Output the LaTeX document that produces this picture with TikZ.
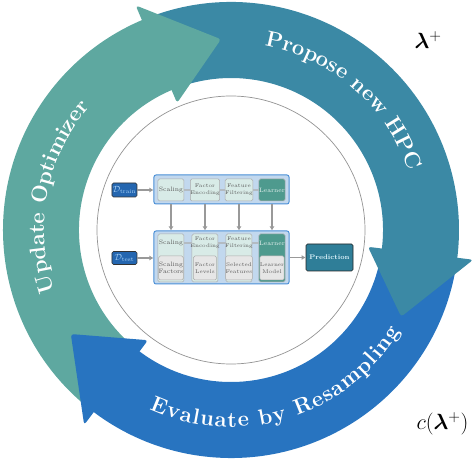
\RequirePackage{fix-cm}
\documentclass[tikz,border=0pt]{standalone}
\usepackage{amsmath,bm}
\usepackage{fontspec}
\usetikzlibrary{decorations.text,arrows.meta}
\definecolor{cgreen}{HTML}{5EA8A0}
\definecolor{cteal}{HTML}{3B89A5}
\definecolor{cblue}{HTML}{2874C0}
\definecolor{contfill}{HTML}{C2D8EE}
\definecolor{contdraw}{HTML}{4A8FD6}
\definecolor{stepfill}{HTML}{D8EBE7}
\definecolor{learnfill}{HTML}{4E9A8E}
\definecolor{subfill}{HTML}{E6E6E6}
\definecolor{dfill}{HTML}{2466B0}
\definecolor{dtext}{HTML}{A9D2F7}
\definecolor{predfill}{HTML}{2F7E98}
\definecolor{arrgrey}{HTML}{999999}
\definecolor{bargrey}{HTML}{B3BBC2}
\newcommand{\ringfont}{\fontsize{22}{26}\selectfont\bfseries}
\newcommand{\onefont}{\fontsize{6.3}{7}\selectfont}
\newcommand{\twofont}{\fontsize{5.3}{7}\selectfont}
\begin{document}
\begin{tikzpicture}[x=1pt,y=1pt,
  dbox/.style={rectangle, rounded corners=1.5pt, fill=dfill, draw=black!80, line width=0.6pt,
    minimum width=25pt, minimum height=14pt, inner sep=0pt, text=dtext, font=\fontsize{9}{10}\selectfont},
  cont/.style={rectangle, rounded corners=2pt, fill=contfill, draw=contdraw, line width=1pt, inner sep=0pt},
  stepbox/.style={rectangle, rounded corners=1.5pt, fill=stepfill, draw=gray!65, line width=0.5pt,
    minimum width=26pt, minimum height=22pt, inner sep=0pt, align=center,
    font=\twofont, text=black!65},
  learnbox/.style={stepbox, fill=learnfill, text=white!85!learnfill},
  tallbox/.style={stepbox, minimum height=48pt},
  steplabel/.style={inner sep=0pt, align=center, font=\twofont, text=black!65},
  subbox/.style={rectangle, rounded corners=1.5pt, fill=subfill, draw=gray!65, line width=0.5pt,
    minimum width=23pt, minimum height=24pt, inner sep=0pt, align=center,
    font=\twofont, text=black!65},
  predbox/.style={rectangle, rounded corners=1.5pt, fill=predfill, draw=black!85, line width=0.7pt,
    minimum width=47pt, minimum height=27pt, inner sep=0pt, text=white!88!cyan,
    font=\fontsize{6.8}{8}\selectfont\bfseries},
  arr/.style={draw=arrgrey, line width=1.1pt, -{Latex[length=4pt,width=5pt]}},
  bar/.style={draw=bargrey, line width=2pt}
]
\useasboundingbox (-231,-230) rectangle (243,230);

% ring bodies
\foreach \a/\c in {232/cgreen,112/cteal,-8/cblue}{
  \pgfmathsetmacro{\e}{\a-121}
  \fill[\c] (\a:228) arc[start angle=\a, end angle=\e, radius=228]
     -- (\e:152) arc[start angle=\e, end angle=\a, radius=152] -- cycle;
}
% arrow heads
\foreach \b/\c in {113/cgreen,-7/cteal,-127/cblue}{
  \pgfmathsetmacro{\t}{\b-20}
  \fill[\c, rounded corners=3pt] (\b:244) -- (\t:191) -- (\b:138) -- cycle;
}

% ring texts
{\ringfont
\path[decorate, decoration={text along path, text align=center, text color=white,
    text={Propose new HPC}}]
  (99:187) arc[start angle=99, end angle=-1, radius=187];
\path[decorate, decoration={text along path, text align=center, text color=white,
    text={Update Optimizer}}]
  (219:187) arc[start angle=219, end angle=119, radius=187];
\path[decorate, decoration={text along path, text align=fit to path, text color=white,
    text={Evaluate by Resampling}}]
  (-114.5:197) arc[start angle=-114.5, end angle=-31, radius=197];
}

% lambda labels
\node (lam) at (197,190) {\fontsize{22}{26}\selectfont$\bm{\lambda}^{+}$};
\node (clam) at (211.5,-194) {\fontsize{22}{26}\selectfont$c(\bm{\lambda}^{+})$};

% inner circle
\draw[draw=gray!85, line width=0.7pt] (0,0) circle[radius=134];

% pipeline diagram
\begin{scope}[shift={(-231pt,230pt)},x=1pt,y=-1pt]
  \node[dbox] (dtrain) at (124.5,190) {$\mathcal{D}_{\text{train}}$};
  \node[dbox, minimum height=13pt] (dtest) at (124.5,258) {$\mathcal{D}_{\text{test}}$};
  \node[cont, minimum width=135pt, minimum height=29pt] (topc) at (221.5,189.5) {};
  \node[cont, minimum width=135pt, minimum height=53pt] (botc) at (221.5,257.5) {};

  \node[stepbox, font=\onefont] (t1) at (171,190) {Scaling};
  \node[stepbox] (t2) at (205,190) {Factor\\Encoding};
  \node[stepbox] (t3) at (239,190) {Feature\\Filtering};
  \node[learnbox, font=\onefont] (t4) at (272,190) {Learner};
  \draw[bar] (t1.east) -- (t2.west);
  \draw[bar] (t2.east) -- (t3.west);
  \draw[bar] (t3.east) -- (t4.west);

  \node[tallbox] (b1) at (171,258) {};
  \node[tallbox] (b2) at (205,258) {};
  \node[tallbox] (b3) at (239,258) {};
  \node[tallbox, fill=learnfill] (b4) at (272,258) {};
  \node[steplabel, font=\onefont] (b1t) at (171,243) {Scaling};
  \node[steplabel] (b2t) at (205,243) {Factor\\Encoding};
  \node[steplabel] (b3t) at (239,243) {Feature\\Filtering};
  \node[steplabel, font=\onefont, text=white!85!learnfill] (b4t) at (272,243) {Learner};
  \draw[bar] (b1.east |- b1t) -- (b2.west |- b2t);
  \draw[bar] (b2.east |- b2t) -- (b3.west |- b3t);
  \draw[bar] (b3.east |- b3t) -- (b4.west |- b4t);
  \node[subbox, font=\fontsize{6.3}{7.5}\selectfont] (s1) at (171,268) {Scaling\\Factors};
  \node[subbox] (s2) at (205,268) {Factor\\Levels};
  \node[subbox] (s3) at (239,268) {Selected\\Features};
  \node[subbox] (s4) at (272,268) {Learner\\Model};

  \node[predbox] (pred) at (329.5,257.5) {Prediction};

  \draw[arr] (dtrain.east) -- (dtrain.east -| topc.west);
  \draw[arr] (dtest.east) -- (dtest.east -| botc.west);
  \foreach \i in {1,2,3,4}{
    \draw[arr] (t\i |- topc.south) -- (t\i |- botc.north);
  }
  \draw[arr] (botc.east |- pred.west) -- (pred.west);
\end{scope}
\end{tikzpicture}
\end{document}
